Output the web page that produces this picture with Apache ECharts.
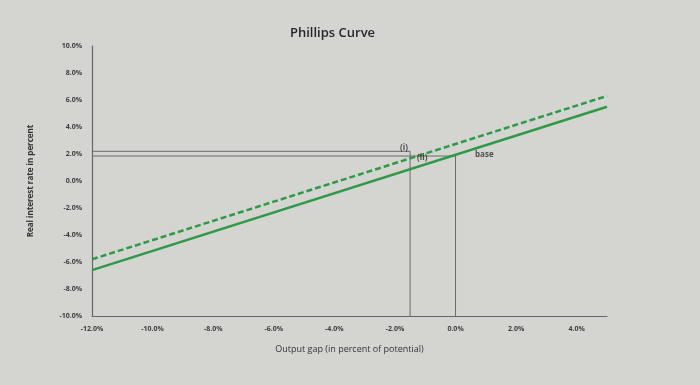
<!DOCTYPE html>
<html>
<head>
<meta charset="utf-8">
<script src="https://cdn.jsdelivr.net/npm/echarts@6/dist/echarts.min.js"></script>
<style>html,body{margin:0;padding:0;background:#d4d4d1}#c{width:700px;height:385px}</style>
</head>
<body>
<div id="c"></div>
<script>
// Data
var xTicks = [-12, -10, -8, -6, -4, -2, 0, 2, 4];
var yTicks = [-10, -8, -6, -4, -2, 0, 2, 4, 6, 8, 10];
var solidLine = [[-12, -6.6], [5, 5.5]];
var dashedLine = [[-12, -5.8], [5, 6.3]];
var refI = [[-12, 2.2], [-1.5, 2.2], [-1.5, -10]];
var refBase = [[-12, 1.85], [0, 1.85], [0, -10]];
var pointLabels = [
  {name: '(i)', value: [-1.7, 2.45]},
  {name: '(ii)', value: [-1.1, 1.75]},
  {name: 'base', value: [0.95, 1.95]}
];

var chart = echarts.init(document.getElementById('c'));
var txt = '#3c3c3c';
chart.setOption({
  backgroundColor: '#d4d4d1',
  animation: false,
  title: {
    text: 'Phillips Curve', left: 285, top: 22,
    textStyle: {fontFamily: 'Open Sans', fontSize: 13, fontWeight: 600, color: '#262626'}
  },
  grid: {left: 92, right: 93, top: 46, bottom: 69},
  xAxis: {
    type: 'value', min: -12, max: 5, interval: 2,
    name: 'Output gap (in percent of potential)', nameLocation: 'middle', nameGap: 29,
    nameTextStyle: {fontFamily: 'Open Sans', fontSize: 9, color: '#333'},
    axisLine: {show: true, onZero: false, lineStyle: {color: '#666', width: 1.2}},
    axisTick: {show: false},
    splitLine: {show: false},
    axisLabel: {
      margin: 9, fontFamily: 'Open Sans', fontSize: 7, fontWeight: 'bold', color: txt,
      showMaxLabel: false,
      formatter: function (v) { return xTicks.indexOf(v) >= 0 ? v.toFixed(1) + '%' : ''; }
    }
  },
  yAxis: {
    type: 'value', min: -10, max: 10, interval: 2,
    name: 'Real interest rate in percent', nameLocation: 'middle', nameGap: 57, nameRotate: 90,
    nameTextStyle: {fontFamily: 'Open Sans', fontSize: 8, fontWeight: 'bold', color: '#333'},
    axisLine: {show: true, onZero: false, lineStyle: {color: '#666', width: 1.2}},
    axisTick: {show: false},
    splitLine: {show: false},
    axisLabel: {
      margin: 10, fontFamily: 'Open Sans', fontSize: 7, fontWeight: 'bold', color: txt,
      formatter: function (v) { return yTicks.indexOf(v) >= 0 ? v.toFixed(1) + '%' : ''; }
    }
  },
  series: [
    {type: 'line', data: refI, symbol: 'none', lineStyle: {color: '#6a6a6a', width: 1}, z: 2},
    {type: 'line', data: refBase, symbol: 'none', lineStyle: {color: '#6a6a6a', width: 1}, z: 2},
    {type: 'line', data: dashedLine, symbol: 'none', lineStyle: {color: '#2f9a45', width: 2.5, type: [6, 3]}, z: 3},
    {type: 'line', data: solidLine, symbol: 'none', lineStyle: {color: '#2f9a45', width: 2.5}, z: 3},
    {
      type: 'scatter', data: pointLabels, symbolSize: 0, z: 4,
      label: {show: true, position: 'inside', formatter: '{b}',
        fontFamily: 'Open Sans', fontSize: 8, fontWeight: 'bold', color: '#2a2a2a'}
    }
  ]
});
</script>
</body>
</html>
